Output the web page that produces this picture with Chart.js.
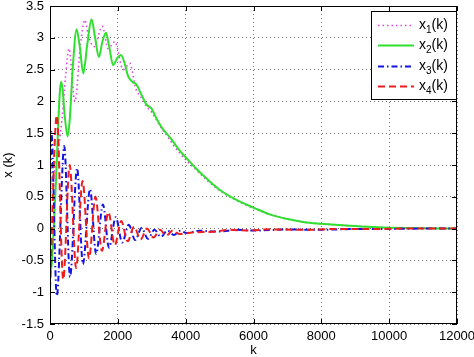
<!DOCTYPE html>
<html><head><meta charset="utf-8">
<script src="https://cdn.jsdelivr.net/npm/chart.js@4"></script>
<style>html,body{margin:0;padding:0;background:#fff;overflow:hidden}</style>
</head><body>
<canvas id="c" width="474" height="357" style="display:block;width:474px;height:357px"></canvas>
<script>
// ---- tick labels ----
const xTicks = [0, 2000, 4000, 6000, 8000, 10000, 12000];
const xTickLabels = ['0', '2000', '4000', '6000', '8000', '10000', '12000'];
const yTicks = [-1.5, -1, -0.5, 0, 0.5, 1, 1.5, 2, 2.5, 3, 3.5];
const yTickLabels = ['-1.5', '-1', '-0.5', '0', '0.5', '1', '1.5', '2', '2.5', '3', '3.5'];

// ---- series names (legend: x_i(k)) ----
const seriesNames = ['x1(k)', 'x2(k)', 'x3(k)', 'x4(k)'];
const legendSub = ['1', '2', '3', '4'];

// ---- x1(k) ----
const k1 = [0, 200, 350, 460, 560, 735, 900, 1030, 1127, 1300, 1540, 1716, 1910, 2157, 2353, 2530, 2700, 2843, 3000, 3170, 3333, 3480, 3627, 3800, 4020, 4300, 4608, 5000, 5500, 6000, 6500, 7000, 7500, 8000, 8500, 9000, 9500, 10000, 11000, 12000];
const x1 = [0.55, 1.1, 1.7, 2.4, 2.83, 2.0, 2.9, 3.28, 3.04, 2.86, 3.18, 2.83, 2.94, 2.5, 2.6, 2.2, 2.05, 1.92, 1.83, 1.68, 1.54, 1.44, 1.32, 1.2, 1.07, 0.93, 0.77, 0.6, 0.44, 0.32, 0.22, 0.15, 0.1, 0.075, 0.055, 0.04, 0.025, 0.015, 0.005, 0];

// ---- x2(k) ----
const k2 = [0, 50, 120, 180, 240, 290, 324, 370, 430, 520, 580, 680, 785, 880, 980, 1100, 1225, 1330, 1440, 1550, 1650, 1750, 1860, 1980, 2090, 2200, 2300, 2420, 2540, 2700, 2843, 2990, 3150, 3333, 3480, 3627, 3800, 4020, 4300, 4608, 5000, 5500, 6000, 6500, 7000, 7500, 8000, 8500, 9000, 9500, 10000, 11000, 12000];
const x2 = [-0.78, -0.55, 0.1, 0.8, 1.6, 2.15, 2.31, 2.2, 1.8, 1.45, 1.7, 2.6, 3.13, 2.85, 2.44, 2.9, 3.29, 3.0, 2.7, 2.95, 3.08, 2.85, 2.57, 2.68, 2.73, 2.6, 2.4, 2.31, 2.27, 2.1, 1.95, 1.89, 1.72, 1.56, 1.47, 1.37, 1.24, 1.11, 0.95, 0.79, 0.61, 0.45, 0.33, 0.22, 0.15, 0.1, 0.075, 0.055, 0.04, 0.025, 0.015, 0.005, 0];

// ---- x3(k) ----
const k3 = [0, 40, 200, 420, 590, 800, 970, 1180, 1360, 1560, 1740, 1940, 2130, 2320, 2510, 2700, 2890, 3080, 3270, 3460, 3650, 3840, 4030, 4400, 5000, 5500, 6000, 7000, 8000, 9000, 10000, 11000, 12000];
const x3 = [0.3, 1.52, -1.06, 1.3, -0.76, 0.95, -0.56, 0.62, -0.4, 0.38, -0.3, 0.18, -0.22, 0.06, -0.18, 0.01, -0.16, -0.02, -0.13, -0.03, -0.1, -0.035, -0.07, -0.035, -0.045, -0.02, -0.03, -0.015, -0.018, -0.006, -0.005, 0, 0];

// ---- x4(k) ----
const k4 = [0, 200, 390, 580, 770, 960, 1150, 1340, 1530, 1720, 1910, 2100, 2290, 2480, 2670, 2860, 3050, 3240, 3430, 3620, 3810, 4200, 4800, 5300, 5800, 6500, 7500, 8500, 9500, 10500, 12000];
const x4 = [-0.95, 1.78, -0.8, 1.0, -0.62, 0.75, -0.47, 0.5, -0.35, 0.26, -0.26, 0.12, -0.2, 0.03, -0.17, 0.0, -0.14, -0.02, -0.11, -0.03, -0.085, -0.06, -0.05, -0.02, -0.03, -0.012, -0.02, -0.005, -0.008, 0, 0];

const pts = (ks, vs) => ks.map((k, i) => ({ x: k, y: vs[i] }));
const FONT = "'Liberation Sans', Arial, sans-serif";

const framePlugin = {
  id: 'frame',
  afterDraw(chart) {
    const ctx = chart.ctx, a = chart.chartArea;
    const xs = chart.scales.x, ys = chart.scales.y;
    ctx.save();
    ctx.strokeStyle = '#000';
    ctx.lineWidth = 1;
    ctx.setLineDash([]);
    ctx.strokeRect(Math.round(a.left) + 0.5, Math.round(a.top) + 0.5, Math.round(a.right - a.left) - 1, Math.round(a.bottom - a.top) - 1);
    const tl = 5;
    ctx.beginPath();
    xTicks.forEach(v => {
      const p = Math.round(xs.getPixelForValue(v)) + 0.5;
      ctx.moveTo(p, a.bottom); ctx.lineTo(p, a.bottom - tl);
      ctx.moveTo(p, a.top); ctx.lineTo(p, a.top + tl);
    });
    yTicks.forEach(v => {
      const p = Math.round(ys.getPixelForValue(v)) + 0.5;
      ctx.moveTo(a.left, p); ctx.lineTo(a.left + tl, p);
      ctx.moveTo(a.right, p); ctx.lineTo(a.right - tl, p);
    });
    ctx.stroke();

    // legend
    const W = 85, H = 88;
    const Lx = Math.round(a.right) - W - 1, Ly = Math.round(a.top) + 5;
    ctx.fillStyle = '#fff';
    ctx.fillRect(Lx, Ly, W, H);
    ctx.strokeStyle = '#000';
    ctx.strokeRect(Lx + 0.5, Ly + 0.5, W, H);
    chart.data.datasets.forEach((ds, i) => {
      const y = Ly + 13.5 + i * 20.5;
      ctx.save();
      ctx.strokeStyle = ds.borderColor;
      ctx.lineWidth = ds.borderWidth;
      ctx.setLineDash(ds.borderDash || []);
      ctx.beginPath();
      ctx.moveTo(Lx + 7, Math.round(y) + 0.5);
      ctx.lineTo(Lx + 43, Math.round(y) + 0.5);
      ctx.stroke();
      ctx.restore();
      ctx.fillStyle = '#000';
      ctx.textBaseline = 'alphabetic';
      ctx.textAlign = 'left';
      let tx = Lx + 48;
      const base = y + 4;
      ctx.font = '14px ' + FONT;
      ctx.fillText('x', tx, base);
      tx += ctx.measureText('x').width;
      ctx.font = '10px ' + FONT;
      ctx.fillText(legendSub[i], tx, base + 4);
      tx += ctx.measureText(legendSub[i]).width;
      ctx.font = '14px ' + FONT;
      ctx.fillText('(k)', tx, base);
    });
    ctx.restore();
  }
};

new Chart(document.getElementById('c'), {
  type: 'line',
  data: {
    datasets: [
      { label: seriesNames[0], data: pts(k1, x1), borderColor: '#e640e6', borderWidth: 1.6, borderDash: [1.5, 3], order: 3 },
      { label: seriesNames[1], data: pts(k2, x2), borderColor: '#2fe02f', borderWidth: 2, borderDash: [], order: 2 },
      { label: seriesNames[2], data: pts(k3, x3), borderColor: '#1414e6', borderWidth: 2, borderDash: [6, 3, 1.5, 3], order: 1 },
      { label: seriesNames[3], data: pts(k4, x4), borderColor: '#ee1c1c', borderWidth: 2, borderDash: [7, 4], order: 0 }
    ]
  },
  options: {
    responsive: false,
    animation: false,
    devicePixelRatio: 1,
    layout: { padding: { top: 6, right: 0, left: 0, bottom: 0 } },
    elements: { point: { radius: 0 }, line: { cubicInterpolationMode: 'monotone', fill: false } },
    plugins: { legend: { display: false }, tooltip: { enabled: false } },
    scales: {
      x: {
        type: 'linear', min: 0, max: 12000,
        afterBuildTicks: s => { s.ticks = xTicks.map(v => ({ value: v })); },
        afterFit: s => { s.height = 33; s.paddingRight = 17; s.paddingLeft = 0; },
        ticks: { callback: v => xTickLabels[xTicks.indexOf(v)], font: { family: FONT, size: 13 }, color: '#000', padding: 5, maxRotation: 0, autoSkip: false },
        grid: { color: 'rgba(0,0,0,0.55)', lineWidth: 1, drawTicks: false },
        border: { display: false, dash: [1, 3] },
        title: { display: true, text: 'k', font: { family: FONT, size: 13 }, color: '#000', padding: { top: 0, bottom: -1 } }
      },
      y: {
        type: 'linear', min: -1.5, max: 3.5,
        afterBuildTicks: s => { s.ticks = yTicks.map(v => ({ value: v })); },
        afterFit: s => { s.width = 50; s.paddingTop = 6; s.paddingBottom = 0; },
        ticks: { callback: v => yTickLabels[yTicks.indexOf(v)], font: { family: FONT, size: 13 }, color: '#000', padding: 6, autoSkip: false },
        grid: { color: 'rgba(0,0,0,0.55)', lineWidth: 1, drawTicks: false },
        border: { display: false, dash: [1, 3] },
        title: { display: true, text: 'x (k)', font: { family: FONT, size: 13 }, color: '#000', padding: { top: 1, bottom: 0 } }
      }
    }
  },
  plugins: [framePlugin]
});
</script>
</body></html>
